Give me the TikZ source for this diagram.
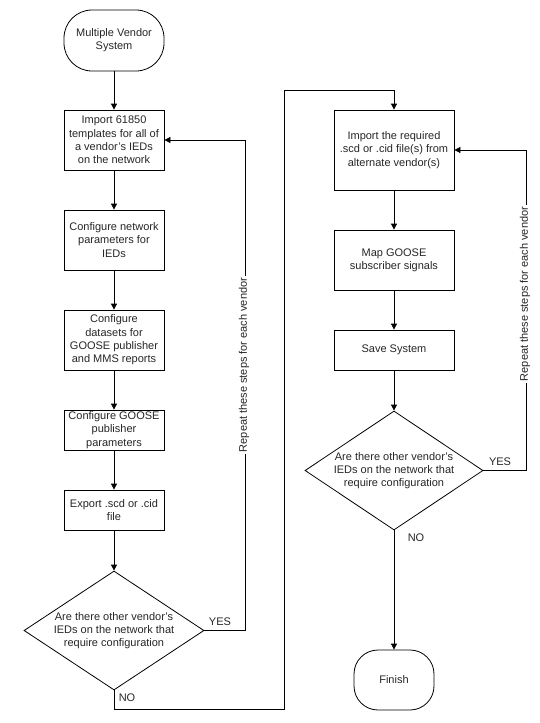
\documentclass[tikz,border=0pt]{standalone}
\usepackage{fontspec}
\setmainfont{Liberation Sans}
\usetikzlibrary{arrows.meta,shapes.geometric}
\tikzset{
  base/.style={draw, line width=0.8pt, align=center, inner sep=1pt, font=\fontsize{11}{13.3}\selectfont, text=black!85},
  proc/.style={base, rectangle, minimum width=100pt},
  term/.style={base, rectangle, rounded corners=28pt},
  dec/.style={draw, line width=0.8pt, diamond, inner sep=0pt, minimum width=180pt, minimum height=119pt},
  txt/.style={align=center, inner sep=0pt, font=\fontsize{11}{13.3}\selectfont, text=black!85},
  arr/.style={line width=0.8pt, -{Triangle[length=6pt,width=6pt]}},
  lab/.style={font=\fontsize{11}{12}\selectfont, text=black!85, inner sep=1pt},
  vlab/.style={lab, rotate=90, fill=white, inner sep=1.5pt}
}
\begin{document}
\begin{tikzpicture}[x=1pt,y=-1pt]
\useasboundingbox (0,0) rectangle (539,723);
% left column
\node[term, minimum width=100pt, minimum height=61pt] (start) at (114,40.5) {Multiple Vendor\\System};
\node[proc, minimum height=60pt] (b1) at (114,140) {Import 61850\\templates for all of\\a vendor's IEDs\\on the network};
\node[proc, minimum height=60pt] (b2) at (114,240) {Configure network\\parameters for\\IEDs};
\node[proc, minimum height=60pt] (b3) at (114,340) {Configure\\datasets for\\GOOSE publisher\\and MMS reports};
\node[proc, minimum height=40pt] (b4) at (114,430) {Configure GOOSE\\publisher\\parameters};
\node[proc, minimum height=40pt] (b5) at (114,510) {Export .scd or .cid\\file};
\node[dec] (d1) at (114,630.5) {};
\node[txt] (d1t) at (114,630.5) {Are there other vendor's\\IEDs on the network that\\require configuration};
% right column
\node[proc, minimum width=120pt, minimum height=80pt] (b6) at (394,150) {Import the required\\.scd or .cid file(s) from\\alternate vendor(s)};
\node[proc, minimum width=120pt, minimum height=60pt] (b7) at (394,260) {Map GOOSE\\subscriber signals};
\node[proc, minimum width=120pt, minimum height=40pt] (b8) at (394,350) {Save System};
\node[dec, minimum width=178pt] (d2) at (394,470.5) {};
\node[txt] (d2t) at (394,470.5) {Are there other vendor's\\IEDs on the network that\\require configuration};
\node[term, rounded corners=24pt, minimum width=80pt, minimum height=60pt] (fin) at (394,680) {Finish};
% helper coordinates
\coordinate (r1) at (245,0);
\coordinate (r2) at (526,0);
\coordinate (nb) at (114,709);
\coordinate (nr) at (284,709);
\coordinate (nt) at (284,90);
% connectors
\draw[arr] (start) -- (b1);
\draw[arr] (b1) -- (b2);
\draw[arr] (b2) -- (b3);
\draw[arr] (b3) -- (b4);
\draw[arr] (b4) -- (b5);
\draw[arr] (b5) -- (d1.north);
\draw[arr] (d1.east) -- (d1.east -| r1) |- (b1.east);
\draw[arr] (d1.south) -- (nb) -- (nr) -- (nt) -| (b6.north);
\draw[arr] (b6) -- (b7);
\draw[arr] (b7) -- (b8);
\draw[arr] (b8) -- (d2.north);
\draw[arr] (d2.south) -- (fin.north);
\draw[arr] (d2.east) -- (d2.east -| r2) |- (b6.east);
% labels
\node[vlab] (rep1) at (244,365) {Repeat these steps for each vendor};
\node[vlab] (rep2) at (525,294) {Repeat these steps for each vendor};
\node[lab] (yes1) at (220,622) {YES};
\node[lab] (no1) at (127,698) {NO};
\node[lab] (yes2) at (500,462) {YES};
\node[lab] (no2) at (416,538) {NO};
\end{tikzpicture}
\end{document}
